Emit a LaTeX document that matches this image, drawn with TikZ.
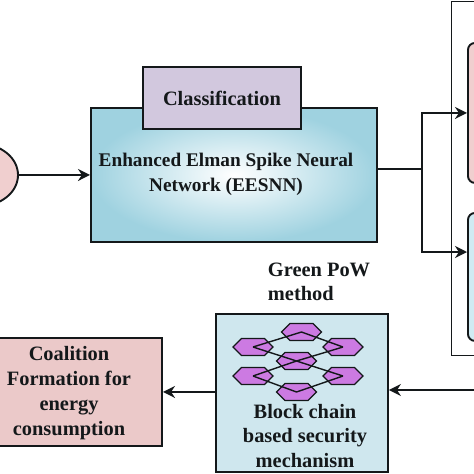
\documentclass[tikz,border=0pt]{standalone}
\usepackage{xcolor}
\usepackage{fontspec}
\setmainfont{Liberation Serif}
\usetikzlibrary{shapes.geometric,shapes.symbols,arrows.meta,positioning}
\definecolor{SoftPink}{HTML}{F0CFCF}
\definecolor{SoftRed}{HTML}{EBC9C9}
\definecolor{SoftLilac}{HTML}{D2C8DE}
\definecolor{SoftSky}{HTML}{CFE7EE}
\definecolor{SoftCyan}{HTML}{D0EBF3}
\definecolor{DeepTeal}{HTML}{9FD2E0}
\definecolor{HexPurple}{HTML}{CC7AE2}
\definecolor{InkBlack}{HTML}{14181A}
\tikzset{
  FB/.style={rectangle,draw=InkBlack,line width=1.9pt,
             text centered,align=center,text=InkBlack,
             font=\fontsize{20.4}{24.8}\selectfont\bfseries},
  arr/.style={-{Stealth[length=12pt,width=12pt]},line width=1.9pt,draw=InkBlack},
  lbl/.style={FB,draw=none,fill=none,inner sep=0pt},
  nR/.style={FB,fill=SoftRed},
  nL/.style={FB,fill=SoftLilac},
  nS/.style={FB,fill=SoftSky},
  hexN/.style={signal,signal to=east and west,signal pointer angle=90,
               minimum width=40pt,minimum height=17pt,inner sep=0pt,
               draw=InkBlack,line width=1.4pt,fill=HexPurple},
  link/.style={draw=InkBlack,line width=1.4pt}
}
\begin{document}
\begin{tikzpicture}[x=1pt,y=-1pt]
  \useasboundingbox (0,0) rectangle (474,474);
  \clip (0,0) rectangle (474,474);

  % Input side
  \node[ellipse,draw=InkBlack,line width=1.9pt,fill=SoftPink,minimum width=76pt,minimum height=62pt] (blob) at (-20,175) {};
  \node[FB,minimum width=286pt,minimum height=134pt,inner color=white,outer color=DeepTeal,anchor=north west] (eesnn) at (90,107) {};
  \node[lbl,font=\fontsize{19.3}{24.8}\selectfont\bfseries] (eesnnText) at (226,174) {Enhanced Elman Spike Neural\\Network (EESNN)};
  \node[nL,minimum width=158pt,minimum height=62pt,anchor=north west] (classify) at (142,66) {Classification};

  % Outcome frame
  \node[FB,fill=white,minimum width=100pt,minimum height=354pt,anchor=north west,line width=1.3pt] (frame) at (451,1) {};
  \node[FB,fill=SoftPink,rounded corners=7pt,minimum width=60pt,minimum height=140pt,anchor=north west] (upper) at (467,42) {};
  \node[FB,fill=SoftCyan,rounded corners=7pt,minimum width=60pt,minimum height=128pt,anchor=north west] (lower) at (467,212) {};
  \coordinate (split) at (422,169);
  \coordinate (lowerIn) at (467,252);
  \coordinate (frameOut) at (474,390);

  % Bottom row
  \node[nS,minimum width=172pt,minimum height=158pt,anchor=north west] (chain) at (215,313) {};
  \node[lbl] (chainText) at (305,436) {Block chain\\based security\\mechanism};
  \node[nR,minimum width=173pt,minimum height=108pt,anchor=north east] (coalition) at (163,337) {};
  \node[lbl] (coalitionText) at (69,393) {Coalition\\Formation for\\energy\\consumption};
  \node[lbl,align=left,anchor=west,font=\fontsize{20.4}{23.5}\selectfont\bfseries] (pow) at (267,282) {Green PoW\\method};

  % Block network
  \node[hexN] (hexT) at (301.5,332) {};
  \node[hexN] (hexL1) at (253,347) {};
  \node[hexN] (hexR1) at (343,347) {};
  \node[hexN] (hexM) at (296.5,361) {};
  \node[hexN] (hexL2) at (253,376) {};
  \node[hexN] (hexR2) at (343,376) {};
  \node[hexN] (hexB) at (296.5,392) {};
  \draw[link] (hexL1.center)--(hexT.center)--(hexR1.center);
  \draw[link] (hexL1.center)--(hexM.center)--(hexR2.center);
  \draw[link] (hexR1.center)--(hexM.center)--(hexL2.center);
  \draw[link] (hexL2.center)--(hexB.center)--(hexR2.center);

  \draw[arr] (blob.east)--(eesnn.west);
  \draw[line width=1.9pt,draw=InkBlack] (eesnn.east|-split)--(split);
  \draw[arr] (split)|-(upper.west);
  \draw[arr] (split)|-(lowerIn);
  \draw[arr] (frameOut)--(chain.east|-frameOut);
  \draw[arr] (chain.west|-coalition.east)--(coalition.east);
\end{tikzpicture}
\end{document}
